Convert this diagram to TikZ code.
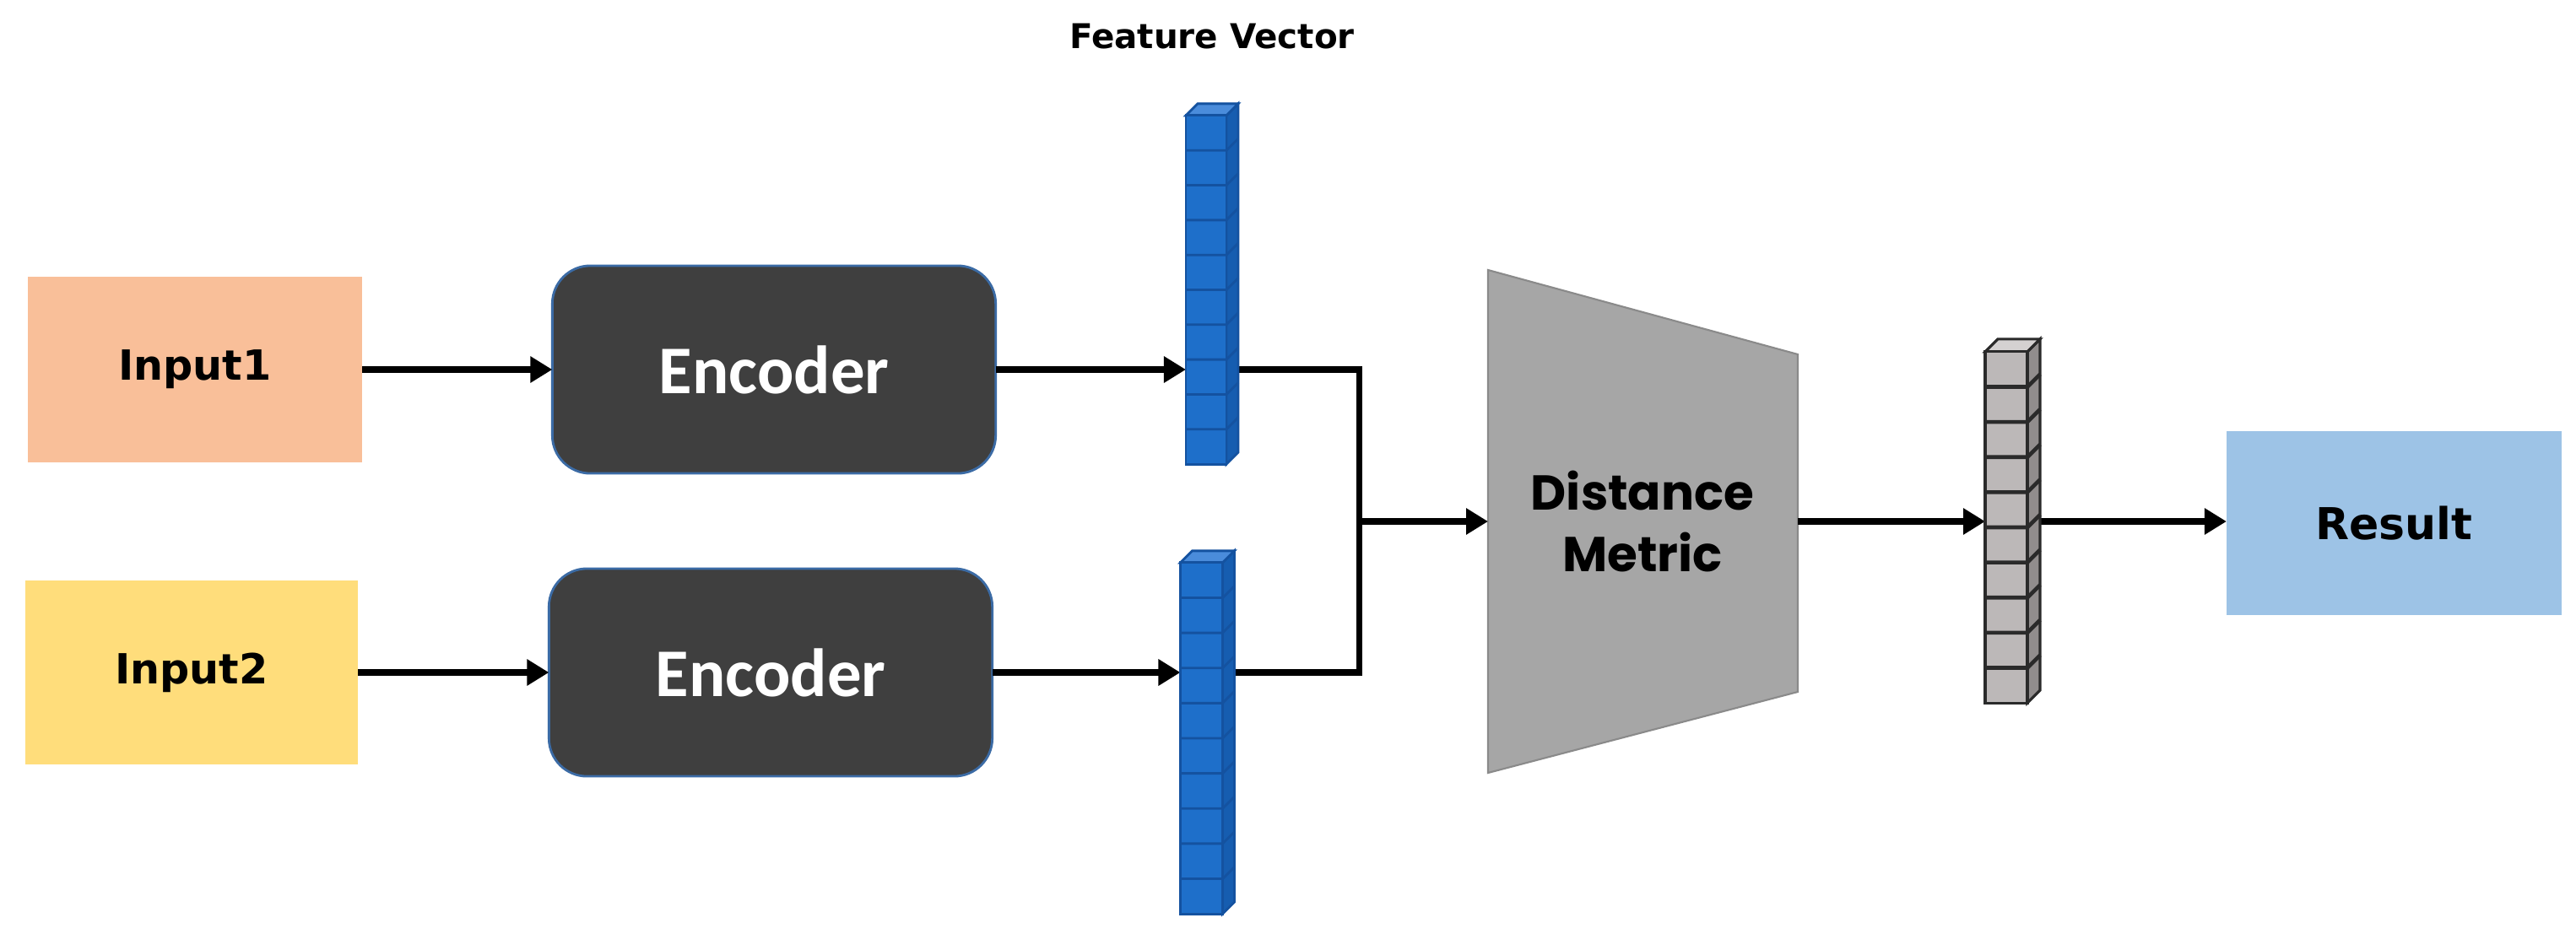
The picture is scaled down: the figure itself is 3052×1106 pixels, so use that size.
\documentclass[tikz,border=0pt]{standalone}
\usepackage{fontspec}
\setmainfont{DejaVu Sans}
\newfontfamily\carlfont{Carlito}
\newfontfamily\popfont{Poppins}
\usetikzlibrary{arrows.meta,calc}
\definecolor{inpeach}{HTML}{F9BF99}
\definecolor{inyellow}{HTML}{FFDD7B}
\definecolor{encfill}{HTML}{3F3F3F}
\definecolor{encedge}{HTML}{3B6BA5}
\definecolor{bluefront}{HTML}{1E6FCA}
\definecolor{bluetop}{HTML}{4A8CDB}
\definecolor{blueside}{HTML}{165DB0}
\definecolor{blueline}{HTML}{1452A0}
\definecolor{grayfront}{HTML}{BCB8B8}
\definecolor{graytop}{HTML}{D4D1D1}
\definecolor{grayside}{HTML}{918D8D}
\definecolor{grayline}{HTML}{2A2A2A}
\definecolor{dmgray}{HTML}{A6A6A6}
\definecolor{dmedge}{HTML}{8A8A8A}
\definecolor{resblue}{HTML}{9DC3E6}
\newcommand{\cellbar}[8]{%
  \fill[#4,draw=#5,line width=#7] (#1.north east) -- ++(#6,-#6) -- ($(#1.south east)+(#6,-#6)$) -- (#1.south east) -- cycle;
  \fill[#3,draw=#5,line width=#7] (#1.north west) -- ++(#6,-#6) -- ($(#1.north east)+(#6,-#6)$) -- (#1.north east) -- cycle;
  \draw[#5,fill=#2,line width=#7] (#1.north west) rectangle (#1.south east);
  \foreach \k in {1,...,9}{%
    \draw[#5,line width=#8] ($(#1.north west)!\k/10!(#1.south west)$) -- ($(#1.north east)!\k/10!(#1.south east)$) -- ++(#6,-#6);
  }%
}
\begin{document}
\begin{tikzpicture}[x=0.01cm,y=-0.01cm,
  inbox/.style={inner sep=0pt,outer sep=0pt,draw=none,font=\fontsize{14}{17}\selectfont\bfseries},
  encbox/.style={inner sep=0pt,outer sep=0pt,draw=encedge,line width=0.8pt,fill=encfill,rounded corners=0.45cm,
    text=white,font=\carlfont\bfseries\fontsize{23}{28}\selectfont,minimum width=5.25cm,minimum height=2.46cm},
  cellnode/.style={inner sep=0pt,outer sep=0pt,draw=none},
  lbl/.style={font=\fontsize{11.5}{14}\selectfont\bfseries},
  dmtext/.style={align=center,font=\popfont\bfseries\fontsize{16.5}{21}\selectfont},
  conn/.style={line width=2pt},
  arr/.style={line width=2pt,-{Triangle[length=7.4pt,width=8.5pt]}}
]
\fill[white] (0,0) rectangle (3052,1106);
\useasboundingbox (0,0) rectangle (3052,1106);

% nodes
\node[inbox,fill=inpeach,minimum width=3.96cm,minimum height=2.20cm] (in1) at (231,438) {Input1};
\node[inbox,fill=inyellow,minimum width=3.94cm,minimum height=2.18cm] (in2) at (227,797) {Input2};
\node[encbox] (enc1) at (917,438) {Encoder};
\node[encbox] (enc2) at (913,797) {Encoder};
\node[cellnode,minimum width=0.48cm,minimum height=4.13cm] (fv1) at (1429,343.5) {};
\node[cellnode,minimum width=0.50cm,minimum height=4.16cm] (fv2) at (1423.5,875) {};
\node[lbl] (fvl) at (1436,43) {Feature Vector};
\coordinate (jx) at (1610,618);
\coordinate (dm1) at (1763,320);
\coordinate (dm2) at (2130,420);
\coordinate (dm3) at (2130,820);
\coordinate (dm4) at (1763,916);
\coordinate (dmw) at (1763,618);
\coordinate (dme) at (2130,618);
\fill[dmgray,draw=dmedge,line width=0.6pt] (dm1) -- (dm2) -- (dm3) -- (dm4) -- cycle;
\node[dmtext] (dm) at (1946,618) {Distance\\Metric};
\node[cellnode,minimum width=0.50cm,minimum height=4.16cm] (gv) at (2377,625) {};
\node[inbox,fill=resblue,minimum width=3.97cm,minimum height=2.17cm,font=\fontsize{14.8}{18}\selectfont\bfseries] (res) at (2836.5,620) {Result};

% connectors
\draw[arr] (in1) -- (enc1);
\draw[arr] (in2) -- (enc2);
\draw[conn] (enc1.east -| fv1.center) -| (jx) |- (enc2.east -| fv2.center);
\draw[arr] (enc1.east) -- (enc1.east -| fv1.west);
\draw[arr] (enc2.east) -- (enc2.east -| fv2.west);
\draw[arr] (jx) -- (dmw);
\draw[arr] (dme) -- (dme -| gv.west);
\draw[arr] (dme -| gv.center) -- (dme -| res.west);

% vectors
\cellbar{fv1}{bluefront}{bluetop}{blueside}{blueline}{14}{0.8pt}{0.8pt}
\cellbar{fv2}{bluefront}{bluetop}{blueside}{blueline}{14}{0.8pt}{0.8pt}
\cellbar{gv}{grayfront}{graytop}{grayside}{grayline}{15}{0.9pt}{1.3pt}
\end{tikzpicture}
\end{document}
